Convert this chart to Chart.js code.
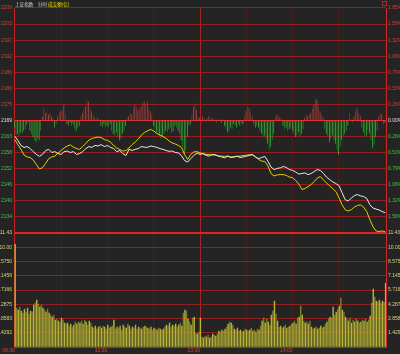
<!DOCTYPE html>
<html>
<head>
<meta charset="utf-8">
<script src="https://cdn.jsdelivr.net/npm/chart.js@4.4.0/dist/chart.umd.min.js"></script>
<style>
  html, body { margin: 0; padding: 0; background: #242424; }
  #wrap { position: relative; width: 400px; height: 354px; overflow: hidden; }
  #wrap span { position: absolute; top: 0; line-height: 8px; font-size: 4.6px; white-space: nowrap;
    font-family: 'Noto Sans CJK SC', sans-serif; }
  .t1 { left: 15px; color: #cfcfcf; }
  .t2 { left: 38px; color: #cfcfcf; }
  .t3 { left: 48px; color: #e6e000; }
  #box { position: absolute; left: 382px; top: 1px; width: 3px; height: 3px; border: 1px solid #c02020; }
</style>
</head>
<body>
<div id="wrap">
  <canvas id="chart" width="400" height="354"></canvas>
  <span class="t1">上证指数</span>
  <span class="t2">分时</span>
  <span class="t3">成交额(亿)</span>
  <div id="box"></div>
</div>
<script>
(function(){
  'use strict';

  // axis labels
  const timeTickMinutes = [0, 60, 120, 180];
  const timeTickLabels = ['09:30', '10:30', '13:00', '14:00'];
  const priceLabels = ['2209', '2203', '2197', '2192', '2186', '2180', '2175', '2169',
                       '2163', '2158', '2152', '2146', '2140', '2134'];
  const pctLabels = ['1.85%', '1.58%', '1.32%', '1.06%', '0.79%', '0.53%', '0.26%', '0.00%',
                     '0.26%', '0.53%', '0.79%', '1.06%', '1.32%', '1.58%'];
  const volLabels = ['11.43', '10.00', '8.5750', '7.1458', '5.7166', '4.2875', '2.8583', '1.4292'];

  const prevClose = 2169.0;
  const priceStep = 5.733;   // one grid row = 0.2643%
  const volStep = 1.4292;

  // index (white) and average (yellow), one point every 2 minutes
  const priceIndex = [
    2163.4, 2161.9, 2160.1, 2159.4, 2159.7, 2159.0, 2157.9, 2156.9, 2156.2, 2156.9,
    2158.3, 2158.7, 2157.6, 2157.9, 2157.2, 2156.9, 2157.9, 2158.1, 2157.6, 2157.9,
    2156.9, 2157.2, 2157.9, 2159.0, 2159.7, 2159.4, 2160.1, 2159.9, 2160.4, 2159.7,
    2160.1, 2159.4, 2159.0, 2157.9, 2158.3, 2157.2, 2156.5, 2158.7, 2158.3, 2158.7,
    2159.0, 2159.7, 2159.5, 2159.4, 2159.9, 2159.7, 2159.4, 2159.0, 2158.7, 2158.3,
    2158.0, 2158.1, 2157.6, 2157.4, 2156.5, 2154.7, 2154.2, 2155.4, 2156.5, 2157.4,
    2156.9, 2157.2, 2156.5, 2156.3, 2156.9, 2156.7, 2156.3, 2156.0, 2155.7, 2156.3,
    2155.8, 2156.0, 2156.3, 2155.8, 2156.0, 2156.3, 2156.5, 2156.9, 2156.0, 2155.4,
    2155.8, 2156.2, 2154.5, 2152.4, 2151.5, 2151.9, 2152.1, 2152.6, 2152.2, 2151.5,
    2151.2, 2150.6, 2149.9, 2150.1, 2150.3, 2149.7, 2150.1, 2150.8, 2151.5, 2151.2,
    2150.1, 2148.8, 2147.9, 2147.1, 2146.5, 2145.8, 2143.3, 2140.8, 2140.3, 2141.3,
    2142.2, 2142.6, 2142.1, 2141.9, 2141.2, 2139.0, 2137.8, 2137.4, 2137.1, 2136.5, 2136.1
  ];
  const avgIndex = [
    2162.2, 2160.4, 2158.7, 2156.7, 2156.0, 2155.8, 2154.9, 2153.3, 2151.7, 2152.2,
    2153.7, 2155.4, 2156.0, 2156.3, 2157.4, 2158.3, 2159.2, 2159.9, 2160.3, 2159.5,
    2159.0, 2158.7, 2159.7, 2160.8, 2162.0, 2162.6, 2162.9, 2163.1, 2162.9, 2162.2,
    2161.9, 2161.3, 2160.1, 2159.2, 2158.7, 2158.1, 2158.3, 2159.2, 2160.4, 2161.3,
    2162.4, 2163.8, 2164.7, 2165.3, 2165.8, 2165.3, 2164.4, 2163.8, 2163.3, 2162.6,
    2161.7, 2161.0, 2160.6, 2160.1, 2159.4, 2156.9, 2155.1, 2156.9, 2157.8, 2157.9,
    2157.5, 2157.2, 2156.9, 2156.9, 2156.7, 2156.7, 2156.3, 2156.3, 2156.2, 2156.3,
    2156.0, 2156.0, 2156.2, 2156.3, 2156.5, 2156.6, 2156.8, 2156.7, 2156.0, 2155.1,
    2154.5, 2154.4, 2152.8, 2150.1, 2149.2, 2149.6, 2149.7, 2149.7, 2149.4, 2148.8,
    2148.6, 2147.6, 2146.3, 2144.4, 2144.7, 2145.4, 2146.2, 2147.2, 2148.5, 2149.0,
    2147.8, 2146.7, 2145.6, 2144.7, 2143.7, 2141.5, 2139.0, 2137.2, 2136.7, 2137.2,
    2138.1, 2138.7, 2138.9, 2138.1, 2136.5, 2133.7, 2131.2, 2129.6, 2129.4, 2129.6, 2129.3
  ];

  // turnover per minute (亿)
  const volume = [
    10.3,
    3.9, 3.7, 4.0, 3.6,  3.4, 3.8, 3.5, 3.9,  3.3, 3.6, 3.5,
    4.2, 4.4, 4.7, 4.3,  4.0, 4.2, 3.9,  3.7, 3.5, 3.8, 3.4,  3.2, 3.0, 3.2,
    2.7, 2.8, 2.6, 2.5, 2.9, 2.7, 2.4,
    2.3, 2.4, 2.1, 2.3, 2.0, 2.2, 2.5, 2.3,
    2.5, 2.4, 2.6, 2.3, 2.7, 2.5, 2.2, 2.6, 2.4,
    2.0, 1.9, 2.1, 1.8, 2.0, 2.1,
    1.9, 2.1, 2.0, 1.8, 2.2, 1.9, 2.0, 2.1, 2.7,
    1.8, 2.0, 1.9, 2.1, 1.7, 2.2, 2.0, 1.9, 2.3, 2.1, 1.8, 2.0, 1.9, 2.2, 1.8, 2.0, 1.9,
    1.8, 2.0, 2.1, 2.0, 1.9, 1.8, 2.0,
    1.7, 1.9, 1.8, 1.7, 1.9, 1.8, 1.7, 1.8,
    2.0, 2.2, 2.1, 2.4, 2.0, 2.2, 2.1, 2.3, 2.0, 2.2, 2.4, 2.1,
    3.4, 3.7, 3.6, 2.8,  2.5, 2.2, 2.9, 3.0,  1.4, 1.3, 1.5, 2.9,
    1.0, 0.9, 1.1, 1.0, 1.2, 0.9, 1.0, 1.3, 1.2, 1.1, 1.3,
    1.6, 1.5, 1.7, 1.6, 1.8, 2.0,  2.3, 2.5, 2.4, 2.2,  1.8, 1.7, 1.9,
    1.6, 1.7, 1.5, 1.6, 1.8, 1.7, 1.6, 1.7, 1.9, 1.6, 1.7, 1.5, 1.8, 1.7, 2.1, 2.6,
    2.9, 2.4, 2.8, 2.5, 2.2,  3.2, 3.6, 4.6, 3.3, 2.6,
    2.0, 2.1, 1.9, 2.0, 2.2, 1.9, 2.0, 2.1, 2.3,
    2.4, 2.6, 2.3, 2.9,  3.0, 4.1, 3.2,  2.6, 2.4, 2.5, 2.3, 2.6,
    2.0, 1.8, 1.9, 2.0, 1.8, 1.9, 2.1, 1.9, 2.0,
    2.3, 2.5, 2.8, 3.0, 2.9,  4.0, 3.2, 3.5, 3.8, 4.1,  4.9, 3.7, 3.5,
    3.0, 2.8, 2.6, 2.9, 2.4, 2.7, 2.5, 2.8, 2.6, 2.4,
    2.5, 2.7, 2.6, 2.8, 2.5, 2.7, 3.1,
    4.4, 5.8, 5.0,  4.6, 4.5, 4.7, 4.4, 4.6, 4.5,
    6.4
  ];

  // red/green breadth bars per minute (+ red, - green)
  const breadth = [
    -4, -9, -8, -9, -7, -8, -6, -5,  -2, -1,
    -6, -8, -10, -12, -13, -11, -12, -6,
    3, 8, 5, 6, 4, 5, 3, 2,  -4, -2,
    3, 5, 6, 7, 10, 4,  -2, -3, -1, -3, -2,  -5, -6, -4, -3,
    3, 5, 7, 9, 13, 12, 8, 6, 4, 2,  1, 2, 1,
    -3, -4, -2, -4, -3, -4, -2,
    -6, -8, -9, -7, -10, -12, -11, -8, -6, -3,
    2, 3, 5, 4, 8, 10, 9, 7, 8,  9, 11, 12, 10, 12, 8, 6, 4,
    -3, -5, -7, -8, -9, -11, -10, -8, -6, -7,
    -5, -4, -7, -6, -3, -4, -6,
    -8, -12, -16, -21, -18, -10,  -3, -2,
    4, 9, 11, 7, 3,
    2, 1, 3, 2, 1, 2, 3, 1, 2, 1,
    1, -1, 1, 1, -1, 1,
    -3, -5, -7, -6, -4, -5,  -2, -3, -4, -2, -3, -1, -2,
    3, 6, 9, 8, 5, 3,  -2, -4, -3, -4,
    -6, -8, -10, -9, -11,  -14, -18, -16, -12, -8,
    2, 4, 3, 2, 1,  -3, -5, -4, -6, -5, -4,
    -6, -8, -10, -9, -7, -10, -8, -5,  2, 4, 3, 4,
    5, 8, 10, 14, 13, 9, 6, 4, 2,
    -5, -8, -10, -13, -11, -9, -12,  -14, -18, -21, -16, -12,  -9, -8, -6, -3,
    5, 1, -1,  3, 6, 8, 5, 3,
    -4, -7, -10, -9, -6,  -8, -12, -17, -15, -10, -6,
    3, 5, 4,  -2, -1
  ];

  document.addEventListener('DOMContentLoaded', init);
  if (document.readyState !== 'loading') init();

  let done = false;
  function init(){
    if (done) return;
    done = true;
    const el = document.getElementById('chart');
    if (!el || typeof Chart === 'undefined') return;

    const font = { family: "'Liberation Sans', sans-serif", size: 5 };
    const pMin = prevClose - 7 * priceStep;
    const pMax = prevClose + 7 * priceStep;
    const vMax = 8 * volStep;

    function fixedTicks(min, step, n){
      return function(scale){
        const t = [];
        for (let i = 0; i <= n; i++) t.push({ value: min + i * step });
        scale.ticks = t;
      };
    }
    function priceColor(c){
      const i = c.index;
      if (i > 7) return '#e23a3a';
      if (i === 7) return '#e0e0e0';
      return '#3ccc3c';
    }

    const lineData = arr => arr.map((v, i) => ({ x: i * 2, y: v }));
    const barData = arr => arr.map((v, i) => ({ x: i, y: v }));

    try {
      new Chart(el, {
        data: {
          datasets: [
            {
              type: 'line', data: lineData(priceIndex), yAxisID: 'y',
              borderColor: '#ececec', borderWidth: 1, pointRadius: 0, tension: 0
            },
            {
              type: 'line', data: lineData(avgIndex), yAxisID: 'y',
              borderColor: '#e2d400', borderWidth: 1, pointRadius: 0, tension: 0
            },
            {
              type: 'bar', data: barData(breadth), yAxisID: 'yb',
              backgroundColor: c => {
                const v = c.raw ? c.raw.y : 0;
                const odd = c.dataIndex % 2;
                if (v >= 0) return odd ? '#9a3434' : '#d04a4a';
                return odd ? '#239a23' : '#3cc83c';
              },
              barPercentage: 1, categoryPercentage: 0.85
            },
            {
              type: 'bar', data: barData(volume), yAxisID: 'yv',
              backgroundColor: c => (c.dataIndex % 2 ? 'rgba(140,140,42,0.85)' : 'rgba(204,204,62,0.85)'),
              barPercentage: 1, categoryPercentage: 1
            }
          ]
        },
        options: {
          responsive: false,
          animation: false,
          devicePixelRatio: 1,
          layout: { padding: { top: 8, left: 0, right: 0, bottom: 0 } },
          plugins: { legend: { display: false }, tooltip: { enabled: false } },
          scales: {
            x: {
              // each minute owns one slot, so the axis runs half a slot past both ends
              type: 'linear', position: 'bottom', min: -0.5, max: 240.5, offset: false,
              afterBuildTicks: fixedTicks(0, 30, 8),
              afterFit: s => { s.height = 7; },
              grid: {
                drawTicks: false, offset: false,
                color: c => {
                  const v = c.tick ? c.tick.value : -1;
                  if (v === 0 || v === 240) return 'rgba(0,0,0,0)';
                  return v === 120 ? '#a82424' : '#4c1b1b';
                }
              },
              border: { display: true, color: '#c42222' },
              ticks: {
                font, color: '#e04040', padding: 1, align: 'end',
                maxRotation: 0, minRotation: 0, autoSkip: false,
                callback: v => {
                  const k = timeTickMinutes.indexOf(v);
                  return k >= 0 ? timeTickLabels[k] : '';
                }
              }
            },
            y: {
              position: 'left', stack: 'left', stackWeight: 225, weight: 2,
              min: pMin, max: pMax,
              afterBuildTicks: fixedTicks(pMin, priceStep, 14),
              afterFit: s => { s.width = 14; },
              grid: {
                drawTicks: false,
                color: c => (c.index === 7 ? '#f03030' : c.index === 0 ? '#e02424' : '#921f1f'),
                lineWidth: c => (c.index === 0 ? 2 : 1)
              },
              border: { display: true, color: '#c42222' },
              ticks: {
                font, padding: 2, autoSkip: false, color: priceColor,
                callback: (v, i) => (i === 0 ? '' : priceLabels[14 - i])
              }
            },
            yv: {
              position: 'left', stack: 'left', stackWeight: 114, weight: 1,
              min: 0, max: vMax,
              afterBuildTicks: fixedTicks(0, volStep, 8),
              afterFit: s => { s.width = 14; },
              grid: {
                drawTicks: false,
                color: c => (c.index === 8 ? '#e02424' : '#921f1f')
              },
              border: { display: true, color: '#c42222' },
              ticks: {
                font, padding: 2, autoSkip: false, color: '#d8d47a',
                callback: (v, i) => (i === 0 ? '' : volLabels[8 - i])
              }
            },
            yp: {
              position: 'right', stack: 'right', stackWeight: 225, weight: 1,
              min: pMin, max: pMax,
              afterBuildTicks: fixedTicks(pMin, priceStep, 14),
              afterFit: s => { s.width = 14; },
              grid: { display: false, drawTicks: false },
              border: { display: true, color: '#d42424' },
              ticks: {
                font, padding: 2, autoSkip: false, color: priceColor,
                callback: (v, i) => (i === 0 ? '' : pctLabels[14 - i])
              }
            },
            yv2: {
              position: 'right', stack: 'right', stackWeight: 114, weight: 2,
              min: 0, max: vMax,
              afterBuildTicks: fixedTicks(0, volStep, 8),
              afterFit: s => { s.width = 14; },
              grid: { display: false, drawTicks: false },
              border: { display: true, color: '#d42424' },
              ticks: {
                font, padding: 2, autoSkip: false, color: '#d8d47a',
                callback: (v, i) => (i === 0 ? '' : volLabels[8 - i])
              }
            },
            // breadth bars share the price panel, zero on the 2169 line
            yb: { display: false, min: -140.6, max: 70.3 }
          }
        }
      });
    } catch(err) {
      console.error('Chart error:', err);
    }
  }
})();
</script>
</body>
</html>
